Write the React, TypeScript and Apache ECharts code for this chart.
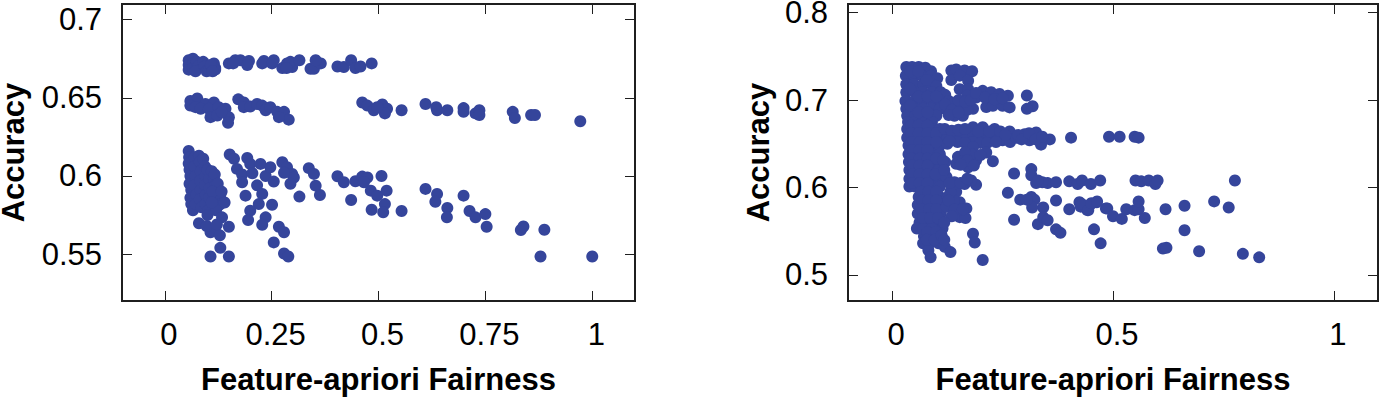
import React, { useEffect, useRef } from "react";
import * as echarts from "echarts";

const leftTop: number[][] = [
  [.056,.674],[.056,.671],[.056,.668],[.066,.675],[.066,.672],[.066,.669],[.075,.673],[.078,.670],[.072,.667],[.09,.673],[.093,.670],[.098,.667],[.103,.668],[.115,.672],[.118,.669],[.118,.668],[.108,.671],[.112,.667],
  [.15,.672],[.165,.674],[.177,.674],[.16,.672],[.197,.6735],[.193,.671],[.232,.6735],[.228,.672],[.255,.674],[.251,.672],[.275,.669],[.286,.672],[.298,.6697],[.294,.673],[.315,.674],[.285,.669],[.341,.6686],[.357,.672],[.349,.6686],[.365,.672],[.353,.674],[.404,.670],[.419,.6697],[.436,.674],[.446,.669],[.458,.670],[.484,.672],
];
const leftMiddle: number[][] = [
  [.06,.648],[.076,.6495],[.06,.645],[.072,.644],[.095,.646],[.084,.643],[.115,.647],[.103,.643],[.107,.6376],[.126,.644],[.142,.643],[.123,.6387],[.15,.6376],[.148,.634],[.133,.641],
  [.172,.649],[.185,.647],[.185,.644],[.2,.6444],[.216,.646],[.228,.645],[.236,.642],[.247,.644],[.263,.641],[.279,.641],[.29,.636],[.267,.6376],
  [.462,.647],[.474,.645],[.489,.642],[.509,.6457],[.52,.643],[.515,.64],[.497,.644],[.554,.642],[.61,.646],[.635,.644],[.637,.642],[.661,.642],[.699,.6434],[.699,.641],[.727,.64],[.736,.642],[.736,.639],[.814,.641],[.819,.637],[.857,.639],[.866,.639],[.972,.635],
];
const leftLower: number[][] = [
  [.056,.616],[.057,.612],[.056,.608],[.058,.604],[.06,.6],[.058,.595],[.062,.591],[.06,.586],[.062,.582],[.066,.578],[.07,.612],[.07,.606],[.072,.6],[.07,.594],[.074,.588],[.072,.582],[.08,.613],[.082,.609],[.084,.603],[.083,.597],[.084,.591],[.082,.585],[.086,.58],[.09,.611],[.094,.606],[.095,.6],[.094,.594],[.096,.588],[.095,.582],[.1,.604],[.104,.598],[.105,.592],[.104,.586],[.102,.578],[.1,.575],[.11,.603],[.115,.598],[.117,.601],[.118,.594],[.118,.588],[.124,.595],[.13,.588],[.13,.582],[.125,.581],[.14,.583],[.12,.578],[.112,.59],[.11,.583],[.133,.59],
  [.08,.5697],[.107,.564],[.118,.567],[.129,.562],[.15,.5675],[.134,.5735],[.13,.554],[.107,.5485],[.15,.5485],[.098,.568],[.122,.569],
  [.152,.6137],[.162,.611],[.169,.6045],[.181,.601],[.181,.596],[.189,.5874],[.193,.6115],[.2,.6077],[.205,.6017],[.216,.594],[.228,.5885],[.22,.582],[.2,.5778],[.195,.5718],[.236,.5735],[.228,.5688],[.251,.5816],[.224,.6077],[.236,.6],[.247,.6056],[.255,.5964],[.267,.5675],[.279,.564],[.255,.5575],[.279,.5504],[.289,.5485],[.275,.6088],[.286,.6056],[.298,.6013],[.302,.599],[.294,.595],[.279,.602],[.315,.5868],[.337,.605],[.349,.6013],[.353,.5938],[.363,.5878],[.404,.5998],[.419,.596],[.436,.5846],[.446,.5966],[.462,.5996],[.474,.599],[.466,.596],[.482,.5906],[.497,.5874],[.507,.6],[.519,.5906],[.515,.582],[.484,.5784],[.511,.5767],[.554,.5776],[.61,.5917],[.637,.5885],[.633,.5835],[.661,.5795],[.66,.5735],[.699,.5874],[.713,.5776],[.727,.5735],[.75,.5756],[.753,.5675],[.833,.5654],[.839,.5677],[.888,.5656],[.879,.5485],[1,.5485],
];

const rightDense: number[][] = [
  [.032,.738],[.045,.738],[.06,.738],[.075,.737],[.088,.733],[.031,.728],[.05,.728],[.068,.728],[.088,.728],[.102,.725],[.032,.718],[.05,.718],[.07,.718],[.09,.718],[.1,.716],
  [.032,.709],[.052,.709],[.07,.709],[.09,.709],[.11,.709],[.12,.706],[.03,.699],[.05,.699],[.07,.699],[.09,.699],[.11,.699],[.128,.699],[.032,.69],[.05,.69],[.07,.69],[.09,.69],[.108,.69],[.125,.688],
  [.034,.682],[.052,.682],[.07,.682],[.09,.682],[.1,.682],[.036,.675],[.052,.675],[.07,.675],[.09,.675],[.034,.667],[.05,.667],[.07,.667],[.09,.667],[.108,.667],[.034,.657],[.05,.657],[.07,.657],[.09,.657],[.11,.657],[.125,.657],
  [.037,.648],[.052,.648],[.07,.648],[.09,.648],[.108,.648],[.125,.65],[.037,.638],[.052,.638],[.07,.638],[.09,.638],[.108,.638],[.038,.629],[.052,.629],[.07,.629],[.09,.629],[.108,.629],[.12,.629],
  [.039,.62],[.052,.62],[.07,.62],[.09,.62],[.105,.62],[.039,.61],[.052,.61],[.07,.61],[.09,.61],[.105,.61],[.039,.601],[.052,.601],[.07,.601],[.09,.601],[.108,.601],[.06,.589],[.075,.589],[.09,.589],[.108,.589],[.058,.58],[.075,.58],[.09,.58],[.108,.58],[.058,.57],[.075,.57],[.09,.57],[.11,.57],
  [.062,.56],[.078,.56],[.095,.56],[.114,.56],[.056,.553],[.07,.553],[.09,.553],[.114,.553],[.072,.544],[.09,.544],[.11,.544],[.07,.536],[.085,.536],[.105,.536],[.082,.528],[.087,.52],
  [.041,.733],[.059,.733],[.078,.723],[.041,.713],[.06,.704],[.08,.704],[.1,.704],[.041,.694],[.06,.686],[.08,.686],[.043,.671],[.06,.671],[.08,.671],[.043,.662],[.06,.662],[.08,.662],[.1,.662],[.044,.652],[.062,.652],[.08,.652],[.1,.652],[.044,.643],[.062,.643],[.08,.643],[.044,.633],[.062,.633],[.08,.633],[.1,.633],[.046,.625],[.062,.625],[.08,.625],[.046,.615],[.062,.615],[.08,.615],[.098,.615],[.046,.605],[.062,.605],[.08,.605],[.066,.595],[.082,.595],[.1,.595],[.068,.585],[.082,.585],[.1,.585],[.066,.575],[.084,.575],[.1,.575],[.07,.565],[.086,.565],[.104,.565],[.08,.549],[.1,.549],[.078,.54],[.096,.54],
];
const rightUpper: number[][] = [
  [.134,.734],[.145,.735],[.164,.734],[.181,.733],[.134,.723],[.153,.728],[.172,.722],[.153,.7125],[.172,.7125],[.19,.703],[.205,.7106],[.224,.709],[.243,.707],[.262,.705],[.213,.692],[.228,.6935],[.25,.6935],[.266,.6916],[.305,.7053],[.318,.693],[.305,.69],[.183,.69],[.16,.682],[.141,.682],[.153,.692],[.138,.696],[.17,.689],[.17,.705],
  [.12,.695],[.135,.689],[.15,.7],[.165,.698],[.178,.7],[.19,.708],[.21,.703],[.232,.701],[.25,.702],[.128,.683],[.15,.686],
];
const rightBand: number[][] = [
  [.119,.667],[.183,.669],[.205,.669],[.232,.667],[.266,.664],[.326,.663],[.141,.659],[.168,.657],[.198,.657],[.228,.657],[.25,.654],[.267,.652],[.281,.657],[.311,.654],[.337,.649],[.357,.655],[.3,.661],[.405,.657],[.491,.658],[.515,.658],[.549,.658],[.558,.657],[.16,.662],[.183,.658],[.215,.66],[.148,.652],[.183,.652],
  [.135,.665],[.15,.666],[.165,.667],[.195,.664],[.22,.664],[.245,.664],[.256,.66],[.13,.653],[.165,.651],[.2,.651],[.215,.651],[.235,.652],[.285,.66],[.293,.655],[.31,.662],[.325,.655],[.34,.658],
];
const rightMiddle: number[][] = [
  [.183,.646],[.213,.64],[.228,.63],[.145,.627],[.149,.635],[.172,.623],[.19,.631],[.179,.638],[.115,.631],[.123,.612],[.141,.606],[.164,.604],[.19,.603],[.179,.608],[.165,.64],[.16,.63],
  [.126,.589],[.145,.595],[.153,.583],[.168,.576],[.153,.566],[.166,.565],[.123,.578],[.14,.585],[.132,.595],[.183,.547],[.187,.537],[.119,.532],[.132,.526],[.205,.517],
  [.17,.631],[.2,.637],[.185,.625],[.155,.626],[.118,.62],[.13,.605],[.155,.605],[.17,.61],[.128,.585],[.142,.575],[.16,.575],[.135,.567],[.118,.56],[.112,.545],[.118,.54],
];
const rightLower: number[][] = [
  [.276,.616],[.315,.621],[.315,.614],[.326,.605],[.352,.605],[.371,.606],[.401,.607],[.42,.604],[.43,.608],[.45,.604],[.471,.608],[.34,.606],[.33,.608],
  [.262,.594],[.29,.586],[.315,.589],[.322,.586],[.317,.577],[.342,.577],[.371,.585],[.401,.575],[.424,.583],[.427,.578],[.442,.574],[.463,.583],[.45,.581],[.484,.576],[.305,.586],
  [.276,.563],[.33,.558],[.342,.566],[.352,.5625],[.371,.552],[.381,.548],[.457,.552],[.472,.536],
  [.551,.608],[.564,.607],[.581,.608],[.596,.604],[.601,.608],[.776,.608],[.429,.581],[.444,.574],[.451,.582],[.464,.584],[.487,.576],[.5,.567],[.52,.564],[.53,.575],[.549,.574],[.558,.575],[.558,.584],[.572,.565],[.619,.575],[.662,.579],[.729,.584],[.762,.577],[.662,.551],[.613,.53],[.621,.531],[.695,.527],[.794,.524],[.831,.52],
];

const leftData = [...leftTop, ...leftMiddle, ...leftLower];
const rightData = [...rightDense, ...rightUpper, ...rightBand, ...rightMiddle, ...rightLower];

const leftXTicks = [0, 0.25, 0.5, 0.75, 1];
const leftYTicks = [0.55, 0.6, 0.65, 0.7];
const rightXTicks = [0, 0.5, 1];
const rightYTicks = [0.5, 0.6, 0.7, 0.8];
const xTitle = "Feature-apriori Fairness";
const yTitle = "Accuracy";

const INK = "#1f1f1f";
const DOT = "#35459b";
const FONT = "'Liberation Sans', Arial, sans-serif";
const TICK = { show: true, inside: true, length: 10, lineStyle: { color: INK, width: 1 } };

function xAxes(idx: number, ticks: number[]) {
  const base = { gridIndex: idx, type: "value", min: -0.1, max: 1.1, splitLine: { show: false }, axisLine: { show: false, onZero: false } };
  return [
    {
      ...base, position: "bottom", name: xTitle, nameLocation: "middle", nameGap: 63,
      nameTextStyle: { fontFamily: FONT, fontSize: 31, fontWeight: "bold", color: "#000" },
      axisTick: { ...TICK, customValues: ticks },
      axisLabel: { show: true, customValues: ticks, margin: 18, padding: [0, 0, 0, 8], fontFamily: FONT, fontSize: 31, color: "#000", hideOverlap: false, formatter: (v: number) => String(v) },
    },
    {
      ...base, position: "top",
      axisTick: { ...TICK, customValues: ticks },
      axisLabel: { show: false },
    },
  ];
}

function yAxes(idx: number, ticks: number[], min: number, max: number, nameGap: number) {
  const base = { gridIndex: idx, type: "value", min, max, splitLine: { show: false }, axisLine: { show: false, onZero: false } };
  return [
    {
      ...base, position: "left", name: yTitle, nameLocation: "middle", nameGap,
      nameTextStyle: { fontFamily: FONT, fontSize: 31, fontWeight: "bold", color: "#000" },
      axisTick: { ...TICK, customValues: ticks },
      axisLabel: { show: true, customValues: ticks, margin: 20, fontFamily: FONT, fontSize: 31, color: "#000", formatter: (v: number) => String(v) },
    },
    {
      ...base, position: "right",
      axisTick: { ...TICK, customValues: ticks },
      axisLabel: { show: false },
    },
  ];
}

export default function App() {
  const ref = useRef<HTMLDivElement>(null);
  useEffect(() => {
    const chart = echarts.init(ref.current!, undefined, { renderer: "svg" });
    chart.setOption({
      animation: false,
      backgroundColor: "#fff",
      grid: [
        { left: 122, top: 4, width: 513, height: 297, outerBoundsMode: "none", show: true, borderColor: INK, borderWidth: 2, backgroundColor: "transparent" },
        { left: 848, top: 4, width: 530, height: 297, outerBoundsMode: "none", show: true, borderColor: INK, borderWidth: 2, backgroundColor: "transparent" },
      ],
      xAxis: [...xAxes(0, leftXTicks), ...xAxes(1, rightXTicks)],
      yAxis: [...yAxes(0, leftYTicks, 0.52, 0.71, 93), ...yAxes(1, rightYTicks, 0.47, 0.81, 74)],
      series: [
        { type: "scatter", xAxisIndex: 0, yAxisIndex: 0, data: leftData, symbol: "circle", symbolSize: 12, itemStyle: { color: DOT, opacity: 1 } },
        { type: "scatter", xAxisIndex: 2, yAxisIndex: 2, data: rightData, symbol: "circle", symbolSize: 12, itemStyle: { color: DOT, opacity: 1 } },
      ],
    });
    return () => chart.dispose();
  }, []);
  return <div ref={ref} style={{ position: "fixed", left: 0, top: 0, width: 1382, height: 397 }} />;
}
